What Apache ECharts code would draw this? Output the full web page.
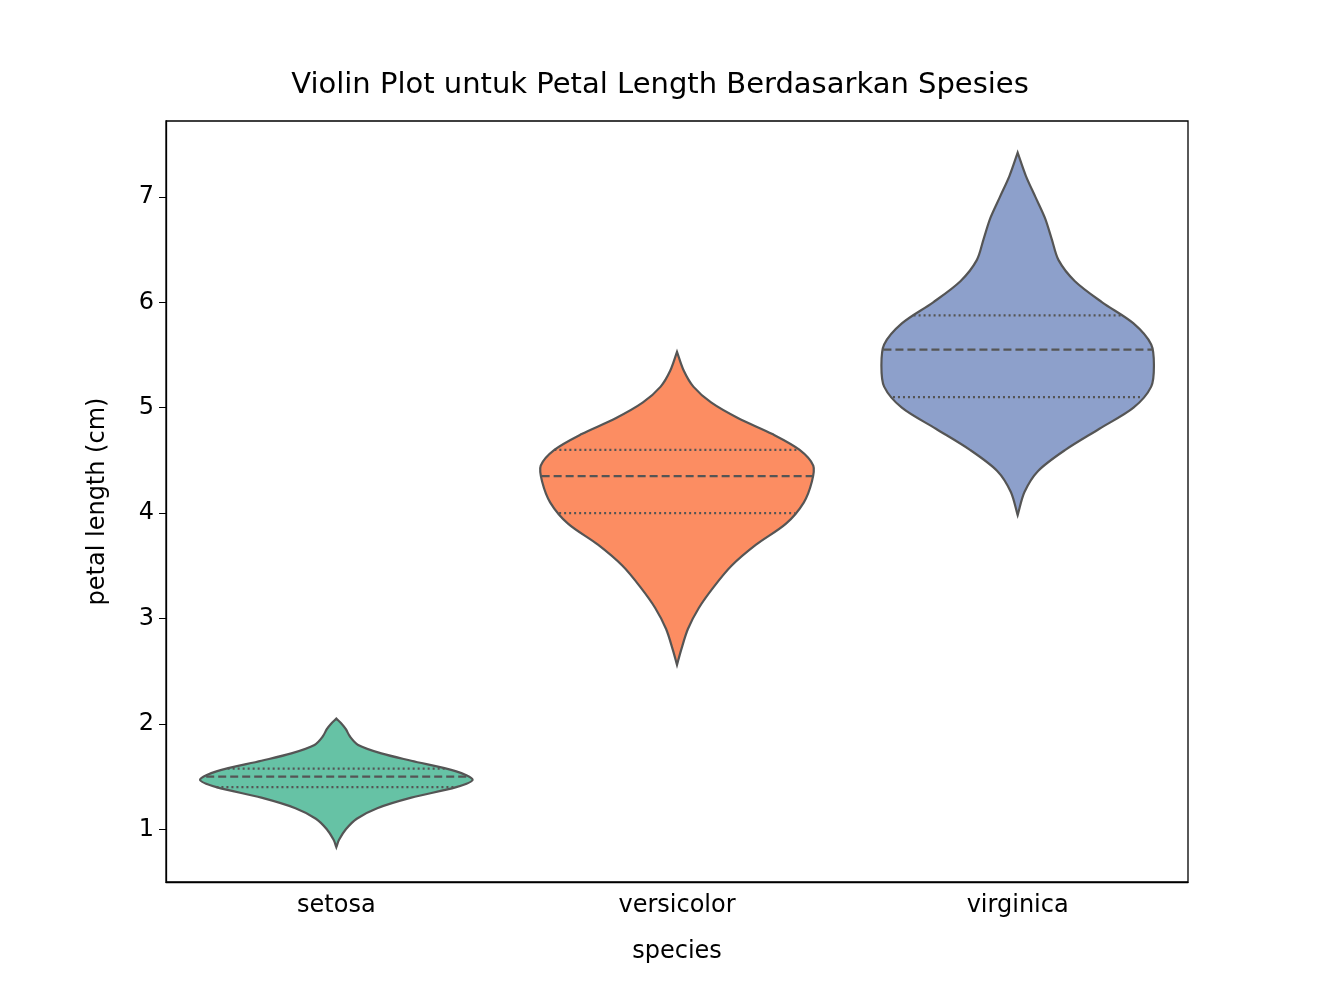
<!DOCTYPE html>
<html>
<head>
<meta charset="utf-8">
<script src="https://cdn.jsdelivr.net/npm/echarts@6/dist/echarts.min.js"></script>
<style>html,body{margin:0;padding:0;background:#fff}#main{width:1320px;height:990px}</style>
</head>
<body>
<div id="main"></div>
<script>
var species = ['setosa', 'versicolor', 'virginica']
var colors = ['#66c2a5', '#fc8d62', '#8da0cb']
var yTicks = [1, 2, 3, 4, 5, 6, 7]

// violin outlines: value (cm) and relative half width
var setosaY = [0.83, 0.9, 1.0, 1.1, 1.2, 1.3, 1.4, 1.47, 1.55, 1.65, 1.72, 1.8, 1.88, 1.95, 2.0, 2.05]
var setosaW = [0, 0.02, 0.07, 0.15, 0.3, 0.55, 0.88, 1, 0.88, 0.55, 0.33, 0.16, 0.1, 0.07, 0.04, 0]
var versicolorY = [2.56, 2.7, 2.9, 3.1, 3.3, 3.5, 3.7, 3.9, 4.1, 4.3, 4.45, 4.6, 4.75, 4.9, 5.05, 5.2, 5.35, 5.53]
var versicolorW = [0, 0.03, 0.08, 0.16, 0.27, 0.4, 0.58, 0.8, 0.93, 0.99, 1.0, 0.9, 0.7, 0.45, 0.25, 0.12, 0.05, 0]
var virginicaY = [3.98, 4.2, 4.4, 4.6, 4.8, 5.0, 5.2, 5.4, 5.6, 5.8, 6.0, 6.2, 6.4, 6.6, 6.8, 7.0, 7.2, 7.42]
var virginicaW = [0, 0.05, 0.15, 0.35, 0.6, 0.85, 0.98, 1.0, 0.98, 0.85, 0.62, 0.42, 0.3, 0.25, 0.2, 0.13, 0.06, 0]
// quartiles q1, median, q3
var setosaQ = [1.4, 1.5, 1.575]
var versicolorQ = [4.0, 4.35, 4.6]
var virginicaQ = [5.1, 5.55, 5.875]

var violins = [
    {y: setosaY, w: setosaW, q: setosaQ},
    {y: versicolorY, w: versicolorW, q: versicolorQ},
    {y: virginicaY, w: virginicaW, q: virginicaQ}
]

function widthAt(v, val){
    for (var i = 0; i < v.y.length - 1; i++) {
        if (val >= v.y[i] && val <= v.y[i + 1]) {
            var t = (val - v.y[i]) / (v.y[i + 1] - v.y[i])
            return v.w[i] + t * (v.w[i + 1] - v.w[i])
        }
    }
    return 0
}

var myChart = echarts.init(document.getElementById('main'))
var font = 'DejaVu Sans'
var option = {
    backgroundColor: '#fff',
    animation: false,
    title: {
        text: 'Violin Plot untuk Petal Length Berdasarkan Spesies',
        left: 'center', top: 66,
        textStyle: {fontFamily: font, fontSize: 29, fontWeight: 'normal', color: '#000'}
    },
    grid: {left: 166, right: 132, top: 121, bottom: 108, show: true, borderColor: '#000', borderWidth: 1.3},
    xAxis: {
        type: 'category', data: species,
        name: 'species', nameLocation: 'middle', nameGap: 58,
        nameTextStyle: {fontFamily: font, fontSize: 24, color: '#000'},
        axisLine: {lineStyle: {color: '#000', width: 1.3}},
        axisTick: {alignWithLabel: true, length: 7, lineStyle: {color: '#000'}},
        axisLabel: {fontFamily: font, fontSize: 24, color: '#000', margin: 12},
        splitLine: {show: false}
    },
    yAxis: {
        type: 'value', min: 0.5, max: 7.72,
        name: 'petal length (cm)', nameLocation: 'middle', nameGap: 56,
        nameTextStyle: {fontFamily: font, fontSize: 24, color: '#000'},
        axisLine: {show: true, lineStyle: {color: '#000', width: 1.3}},
        axisTick: {show: true, length: 7, customValues: yTicks, lineStyle: {color: '#000'}},
        axisLabel: {fontFamily: font, fontSize: 24, color: '#000', margin: 12, customValues: yTicks},
        splitLine: {show: false}
    },
    series: [{
        type: 'custom',
        data: [0, 1, 2],
        encode: {x: 0},
        renderItem: function (params, api) {
            var idx = api.value(0)
            var v = violins[idx]
            var half = api.size([1, 0])[0] * 0.4
            var cx = api.coord([idx, 0])[0]
            var left = [], right = []
            for (var i = 0; i < v.y.length; i++) {
                var py = api.coord([idx, v.y[i]])[1]
                left.push([cx - v.w[i] * half, py])
                right.unshift([cx + v.w[i] * half, py])
            }
            var children = [{
                type: 'polygon',
                shape: {points: left.concat(right), smooth: 0.3},
                style: {fill: colors[idx], stroke: '#555', lineWidth: 2.2}
            }]
            v.q.forEach(function (q, k) {
                var hw = widthAt(v, q) * half
                var py = api.coord([idx, q])[1]
                children.push({
                    type: 'line',
                    shape: {x1: cx - hw, y1: py, x2: cx + hw, y2: py},
                    style: {stroke: '#555', lineWidth: 2.2, lineDash: k === 1 ? [8, 4] : [2, 3]}
                })
            })
            return {type: 'group', children: children}
        }
    }]
}
option && myChart.setOption(option)
</script>
</body>
</html>
